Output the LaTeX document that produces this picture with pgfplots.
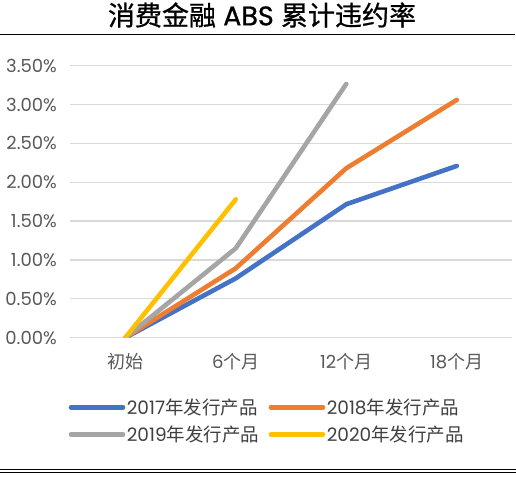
\documentclass[border=0pt]{standalone}
\usepackage{fontspec}
\setmainfont{Poppins}
\newfontfamily\cjk{Noto Sans CJK SC}
\newfontfamily\cjkt[FakeBold=0.8]{Noto Sans CJK SC}
\newfontfamily\latt[FakeBold=0.8]{Poppins}
\usepackage{pgfplots}
\pgfplotsset{compat=1.18}

\definecolor{c17}{HTML}{4472C4}
\definecolor{c18}{HTML}{ED7D31}
\definecolor{c19}{HTML}{A5A5A5}
\definecolor{c20}{HTML}{FFC000}
\definecolor{gridc}{HTML}{D9D9D9}
\definecolor{tickc}{HTML}{595959}

\begin{document}
\begin{tikzpicture}[x=1pt,y=1pt]
\fill[white] (0,0) rectangle (516,476);
\path[use as bounding box] (0,0) rectangle (516,476);
% title and rules
\node[font=\fontsize{27}{27}\selectfont] at (262,461) {{\cjkt 消费金融} {\latt ABS} {\cjkt 累计违约率}};
\draw[line width=1pt] (0,441.7) -- (515,441.7);
\draw[line width=0.9pt] (0,7) -- (516,7);
\draw[line width=0.9pt] (0,4) -- (516,4);

\begin{axis}[
    at={(70pt,138.3pt)}, anchor=south west,
    scale only axis, width=442pt, height=272pt,
    xmin=-0.5, xmax=3.5, ymin=0, ymax=3.5,
    xtick={0,1,2,3},
    xticklabels={{\cjk 初始},{6\cjk 个月},{12\cjk 个月},{18\cjk 个月}},
    ytick={0,0.5,1,1.5,2,2.5,3,3.5},
    yticklabels={0.00\%,0.50\%,1.00\%,1.50\%,2.00\%,2.50\%,3.00\%,3.50\%},
    ymajorgrids, grid style={color=gridc, line width=1.3pt},
    axis line style={draw=none}, major tick length=0pt,
    tick label style={font=\fontsize{18}{18}\selectfont, color=tickc},
    yticklabel style={anchor=east, inner sep=0pt, xshift=-13pt},
    xticklabel style={anchor=center, inner sep=0pt, yshift=-24pt},
    legend columns=2,
    legend cell align=left,
    legend image code/.code={\draw[#1] (0pt,0pt) -- (52pt,0pt);},
    legend style={at={(0.4457,-0.3057)}, anchor=center, draw=none, fill=none,
        font=\fontsize{18.5}{18.5}\selectfont, text=black!75,
        row sep=7pt, nodes={inner sep=1.5pt},
        /tikz/every even column/.append style={column sep=8pt}},
    every axis plot/.append style={line width=4.6pt, line cap=round, line join=round},
]
\addplot[color=c17] coordinates {(0,0) (1,0.764) (2,1.717) (3,2.21)};
\addlegendentry{2017{\cjk 年发行产品}}
\addplot[color=c18] coordinates {(0,0) (1,0.893) (2,2.18) (3,3.06)};
\addlegendentry{2018{\cjk 年发行产品}}
\addplot[color=c19] coordinates {(0,0) (1,1.15) (2,3.265)};
\addlegendentry{2019{\cjk 年发行产品}}
\addplot[color=c20] coordinates {(0,0) (1,1.78)};
\addlegendentry{2020{\cjk 年发行产品}}
\end{axis}
\end{tikzpicture}
\end{document}
